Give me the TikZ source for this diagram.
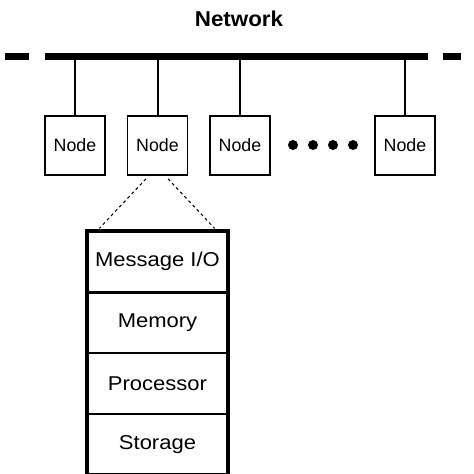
\documentclass[tikz,border=0pt]{standalone}
\usepackage{fontspec}
\setmainfont{Liberation Sans}
\newfontfamily\widefont[FakeStretch=1.1]{Liberation Sans}
\newfontfamily\titlefont[FakeStretch=1.04]{Liberation Sans}
\usetikzlibrary{positioning}
\newcommand*{\lbl}[1]{\fontsize{17.8}{20}\selectfont #1}
\newcommand*{\unitlbl}[1]{\widefont\fontsize{20}{24}\selectfont #1}

\tikzset{
  nodebox/.style={draw, line width=1.5pt, minimum width=60pt, minimum height=59pt, inner sep=0pt},
  cell/.style={draw, line width=1.3pt, minimum width=139pt, minimum height=59.5pt, inner sep=0pt},
  drop/.style={line width=2pt},
  bus/.style={line width=7pt},
  dot/.style={circle, fill, minimum size=10pt, inner sep=0pt}
}

\begin{document}
\begin{tikzpicture}[x=1pt,y=-1pt]
\useasboundingbox (0,0) rectangle (474,474);

\node[font=\titlefont\fontsize{21.5}{26}\selectfont\bfseries] (title) at (239,19) {Network};

% bus
\draw[bus] (5,56) -- (29,56);
\draw[bus] (45,56) -- (428,56);
\draw[bus] (443,56) -- (461,56);

% nodes
\node[nodebox] (n1) at (75,145.5) {\lbl{Node}};
\node[nodebox] (n2) at (157.5,145.5) {\lbl{Node}};
\node[nodebox] (n3) at (240,145.5) {\lbl{Node}};
\node[nodebox] (n4) at (405,145.5) {\lbl{Node}};

\coordinate (t1) at (75,59);
\coordinate (t2) at (157.5,59);
\coordinate (t3) at (240,59);
\coordinate (t4) at (405,59);
\draw[drop] (t1) -- (n1.north);
\draw[drop] (t2) -- (n2.north);
\draw[drop] (t3) -- (n3.north);
\draw[drop] (t4) -- (n4.north);

\foreach \x in {293,313,333,353}
  \node[dot] at (\x,145) {};

% node detail
\node[cell] (io) at (157.5,261.8) {\unitlbl{Message I/O}};
\node[cell, below=0pt of io] (mem) {\unitlbl{Memory}};
\node[cell, below=0pt of mem] (cpu) {\unitlbl{Processor}};
\node[cell, below=0pt of cpu] (disk) {\unitlbl{Storage}};
\draw[line width=4pt] (io.north west) rectangle (disk.south east);

\draw[dashed, line width=1pt] ([xshift=-11.5pt,yshift=-3pt]n2.south) -- ([xshift=12pt,yshift=3pt]io.north west);
\draw[dashed, line width=1pt] ([xshift=10.5pt,yshift=-3pt]n2.south) -- ([xshift=-13pt,yshift=3pt]io.north east);
\end{tikzpicture}
\end{document}
